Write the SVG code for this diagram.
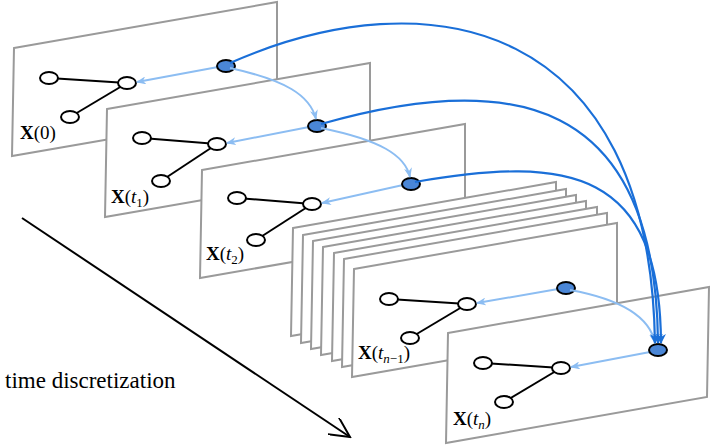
<svg xmlns="http://www.w3.org/2000/svg" width="713" height="447" viewBox="0 0 713 447">
<defs>
<style>
.pl{fill:#fff;stroke:#9a9a9a;stroke-width:2}
.e{stroke:#000;stroke-width:2}
.n{fill:#fff;stroke:#000;stroke-width:2}
.f{fill:#4a86d6;stroke:#000;stroke-width:2}
.lb{fill:none;stroke:#8cbdf2;stroke-width:2}
.db{fill:none;stroke:#1a6fd8;stroke-width:2.2}
.lab{font-family:"Liberation Serif",serif;font-size:19px;fill:#000}
.x{font-weight:bold}
.i{font-style:italic}
</style>
<marker id="al" markerWidth="10" markerHeight="8" refX="9" refY="4" orient="auto" markerUnits="userSpaceOnUse"><path d="M0,0 L10,4 L0,8 L3,4 Z" fill="#8cbdf2"/></marker>
<marker id="ad" markerWidth="10" markerHeight="10" refX="9" refY="5" orient="auto" markerUnits="userSpaceOnUse"><path d="M0,0 L10,5 L0,10 L3,5 Z" fill="#1a6fd8"/></marker>
<marker id="ak" markerWidth="22" markerHeight="20" refX="20" refY="10" orient="auto" markerUnits="userSpaceOnUse"><path d="M0,0 L20,10 L0,20" fill="none" stroke="#000" stroke-width="2"/></marker>
</defs>
<g id="time-arrow">
<line x1="22" y1="218" x2="350" y2="437" stroke="#000" stroke-width="2" marker-end="url(#ak)"/>
<text x="5" y="388" style="font-family:'Liberation Serif',serif;font-size:23px">time discretization</text>
</g>
<g id="plane0">
<polygon class="pl" points="14,48 277,2 277,110 12,156"/>
<line class="e" x1="49" y1="78" x2="127" y2="83"/><line class="e" x1="127" y1="83" x2="70" y2="117"/>
<ellipse class="n" cx="49" cy="78" rx="9" ry="6"/><ellipse class="n" cx="127" cy="83" rx="9" ry="6"/><ellipse class="n" cx="70" cy="117" rx="9" ry="6"/>
<path class="lb" d="M218,67 L137,82" marker-end="url(#al)"/>
<ellipse class="f" cx="226" cy="66" rx="9" ry="6"/>
<text class="lab" x="20" y="139"><tspan class="x">X</tspan>(0)</text>
</g>
<g id="plane1">
<polygon class="pl" points="107,109 370,63 370,171 105,217"/>
<line class="e" x1="142" y1="138" x2="217" y2="144"/><line class="e" x1="217" y1="144" x2="161" y2="181"/>
<ellipse class="n" cx="142" cy="138" rx="9" ry="6"/><ellipse class="n" cx="217" cy="144" rx="9" ry="6"/><ellipse class="n" cx="161" cy="181" rx="9" ry="6"/>
<path class="lb" d="M309,127 L227,143" marker-end="url(#al)"/>
<ellipse class="f" cx="317" cy="126" rx="9" ry="6"/>
<text class="lab" x="111" y="203"><tspan class="x">X</tspan>(<tspan class="i">t</tspan><tspan font-size="13" dy="4">1</tspan><tspan dy="-4">)</tspan></text>
</g>
<g id="plane2">
<polygon class="pl" points="202,170 465,124 465,232 200,278"/>
<line class="e" x1="237" y1="198" x2="312" y2="204"/><line class="e" x1="312" y1="204" x2="256" y2="240"/>
<ellipse class="n" cx="237" cy="198" rx="9" ry="6"/><ellipse class="n" cx="312" cy="204" rx="9" ry="6"/><ellipse class="n" cx="256" cy="240" rx="9" ry="6"/>
<path class="lb" d="M403,185 L322,203" marker-end="url(#al)"/>
<ellipse class="f" cx="411" cy="184" rx="9" ry="6"/>
<text class="lab" x="206" y="260"><tspan class="x">X</tspan>(<tspan class="i">t</tspan><tspan font-size="13" dy="4">2</tspan><tspan dy="-4">)</tspan></text>
</g>
<g id="stack">
<polygon class="pl" points="293,228 556,182 556,290 291,336"/>
<polygon class="pl" points="303,235 566,189 566,297 301,343"/>
<polygon class="pl" points="313,241 576,195 576,303 311,349"/>
<polygon class="pl" points="323,247 586,201 586,309 321,355"/>
<polygon class="pl" points="334,253 597,207 597,315 332,361"/>
<polygon class="pl" points="344,259 607,213 607,321 342,367"/>
</g>
<g id="plane-n-1">
<polygon class="pl" points="354,269 617,223 617,331 352,377"/>
<line class="e" x1="389" y1="299" x2="467" y2="304"/><line class="e" x1="467" y1="304" x2="410" y2="338"/>
<ellipse class="n" cx="389" cy="299" rx="9" ry="6"/><ellipse class="n" cx="467" cy="304" rx="9" ry="6"/><ellipse class="n" cx="410" cy="338" rx="9" ry="6"/>
<path class="lb" d="M558,289 L477,303" marker-end="url(#al)"/>
<ellipse class="f" cx="566" cy="288" rx="9" ry="6"/>
<text class="lab" x="358" y="359"><tspan class="x">X</tspan>(<tspan class="i">t</tspan><tspan font-size="13" dy="4" class="i">n</tspan><tspan font-size="13">−1</tspan><tspan dy="-4">)</tspan></text>
</g>
<g id="plane-n">
<polygon class="pl" points="448,333 709,287 707,397 446,443"/>
<line class="e" x1="483" y1="363" x2="561" y2="368"/><line class="e" x1="561" y1="368" x2="504" y2="402"/>
<ellipse class="n" cx="483" cy="363" rx="9" ry="6"/><ellipse class="n" cx="561" cy="368" rx="9" ry="6"/><ellipse class="n" cx="504" cy="402" rx="9" ry="6"/>
<path class="lb" d="M650,352 L571,367" marker-end="url(#al)"/>
<ellipse class="f" cx="658" cy="350" rx="9" ry="6"/>
<text class="lab" x="453" y="425"><tspan class="x">X</tspan>(<tspan class="i">t</tspan><tspan font-size="13" dy="4" class="i">n</tspan><tspan dy="-4">)</tspan></text>
</g>
<g id="connectors">
<path class="lb" d="M230,68 C285,80 310,95 316,119" marker-end="url(#al)"/>
<path class="lb" d="M321,128 C380,140 405,155 410,177" marker-end="url(#al)"/>
<path class="lb" d="M570,290 C625,300 650,318 655,343" marker-end="url(#al)"/>
<path class="db" d="M230,63 C430,-25 650,20 655,343" marker-end="url(#ad)"/>
<path class="db" d="M321,124 C510,70 656,95 658,343" marker-end="url(#ad)"/>
<path class="db" d="M415,182 C570,155 660,170 661,343" marker-end="url(#ad)"/>
</g>
</svg>
